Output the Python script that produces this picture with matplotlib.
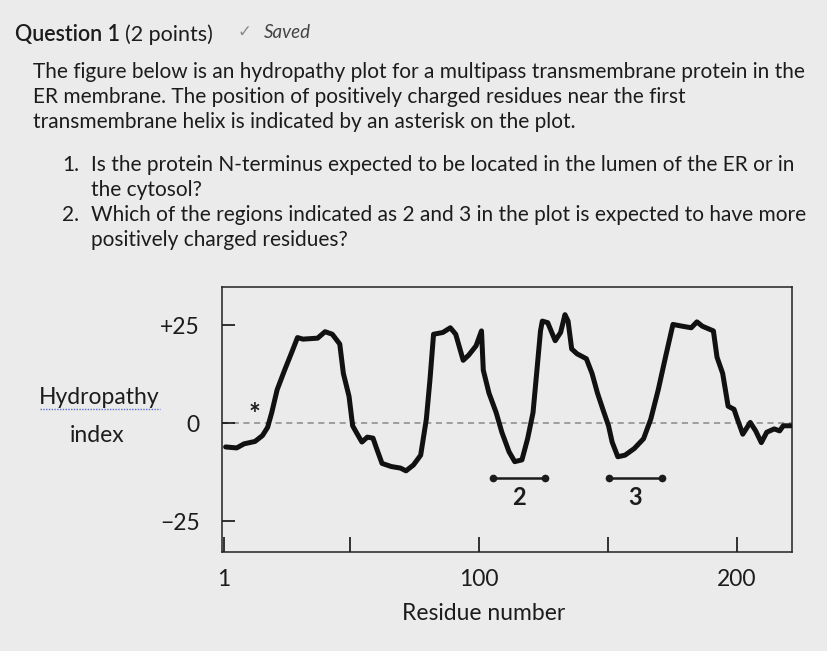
import matplotlib
matplotlib.use('Agg')
import matplotlib.pyplot as plt

plt.rcParams['font.family'] = ['Lato', 'DejaVu Sans']

# hydropathy trace
residue = [1.7, 6, 8.9, 13.1, 16, 18, 19.6, 21.7, 24.6, 27.4, 29.6, 31.7, 37.4, 40.3, 43.1,
           46, 47.4, 49.6, 51, 52.4, 54.6, 56.7, 58.9, 60.3, 62.4, 66, 69.6, 71.7, 74.6,
           77.4, 79.6, 81, 82.4, 86, 88.9, 91, 93.9, 96, 98.9, 101, 101.7, 103.9, 106.7,
           108.9, 111.7, 113.9, 116.7, 118.9, 121, 122.4, 123.9, 124.6, 126.7, 129.6,
           131.7, 133.4, 134.6, 136, 138.1, 141.7, 143.9, 146, 148.1, 150.3, 151.7, 153.9,
           156.7, 160.3, 163.9, 166.7, 169.6, 172.4, 175.3, 178.9, 182.4, 184.6, 186.7,
           191, 192.4, 194.6, 196.7, 199, 200.3, 202.4, 205.3, 207.4, 209.6, 211.7, 214.6,
           216.7, 218.1, 221]
hydropathy = [-6.0, -6.25, -5.2, -4.6, -3.1, -1.0, 2.75, 8.6, 13.6, 18.2, 21.9, 21.5, 21.75,
              23.4, 22.75, 20.25, 12.75, 6.9, -0.6, -2.25, -4.75, -3.5, -3.75, -6.4, -10.2,
              -11, -11.4, -12.1, -10.6, -8.1, 1.1, 11.1, 22.75, 23.2, 24.4, 22.75, 16.1,
              17.4, 19.8, 23.6, 13.6, 7.75, 2.75, -2.25, -7.25, -9.75, -9.3, -3.9, 2.75,
              12.75, 23.6, 26.1, 25.7, 21.1, 23.2, 27.75, 26.1, 19, 17.75, 16.5, 12.75, 7.75,
              3.6, -0.6, -4.75, -8.5, -8.1, -6.4, -3.9, 1.1, 8.6, 16.9, 25.25, 24.8, 24.4,
              25.9, 24.8, 23.6, 16.9, 12.75, 4.4, 3.6, 1.1, -2.75, 0.25, -1.9, -4.9, -2.25,
              -1.4, -1.9, -0.6, -0.6]

asterisk_pos = (12.9, 2.2)
region_names = ['2', '3']
region_start = [105.3, 150.3]
region_end = [125.7, 171.0]
region_y = -13.8

x_ticks = [1, 50, 100, 150, 200]
x_labels = ['1', '', '100', '', '200']
y_ticks = [-25, 0, 25]
y_labels = ['\u221225', '0', '+25']

bg = '#ebebeb'
ink = '#1c1c1c'
fs_txt = 15
fs_plot = 16.5

fig = plt.figure(figsize=(8.28, 6.51), dpi=100, facecolor=bg)

# question text
fig.text(15 / 828, 1 - 35 / 651, 'Question 1', fontsize=15.5, fontweight='semibold',
         color=ink, va='center')
fig.text(125 / 828, 1 - 35 / 651, '(2 points)', fontsize=15.5, color=ink, va='center')
fig.text(238 / 828, 1 - 32 / 651, '\u2713', fontsize=12, color='#8a8a8a', va='center',
         family=['DejaVu Sans'])
fig.text(264 / 828, 1 - 32 / 651, 'Saved', fontsize=13.5, style='italic', color='#444444',
         va='center')

para = ['The figure below is an hydropathy plot for a multipass transmembrane protein in the',
        'ER membrane. The position of positively charged residues near the first',
        'transmembrane helix is indicated by an asterisk on the plot.']
for i, line in enumerate(para):
    fig.text(33 / 828, 1 - (72 + 25 * i) / 651, line, fontsize=fs_txt, color=ink, va='center')

items = [('1.', ['Is the protein N-terminus expected to be located in the lumen of the ER or in',
                 'the cytosol?']),
         ('2.', ['Which of the regions indicated as 2 and 3 in the plot is expected to have more',
                 'positively charged residues?'])]
yy = 165
for num, lines in items:
    fig.text(62 / 828, 1 - yy / 651, num, fontsize=fs_txt, color=ink, va='center')
    for line in lines:
        fig.text(91 / 828, 1 - yy / 651, line, fontsize=fs_txt, color=ink, va='center')
        yy += 25

# plot
ax = fig.add_axes([222 / 828, 1 - 552 / 651, 570 / 828, 265 / 651])
ax.set_facecolor('none')
ax.set_xlim(0.3, 221.5)
ax.set_ylim(-32.8, 34.8)

ax.axhline(0, color='#888888', lw=1.1, ls=(0, (4, 3)), zorder=1)
ax.plot(residue, hydropathy, color='#111111', lw=3.6, solid_joinstyle='round',
        solid_capstyle='round', zorder=3)

ax.text(asterisk_pos[0], asterisk_pos[1], '*', fontsize=20, fontweight='bold',
        ha='center', va='center', color=ink)
for name, s, e in zip(region_names, region_start, region_end):
    ax.plot([s, e], [region_y, region_y], color=ink, lw=1.8, marker='o', ms=4.5)
    ax.text((s + e) / 2, region_y - 5.2, name, fontsize=17, fontweight='bold',
            ha='center', va='center', color=ink)

for sp in ax.spines.values():
    sp.set_linewidth(1.1)
    sp.set_color('#222222')

ax.set_xticks(x_ticks)
ax.set_xticklabels(x_labels, fontsize=fs_plot, color=ink)
ax.set_yticks(y_ticks)
ax.set_yticklabels(y_labels, fontsize=fs_plot, color=ink)
ax.tick_params(axis='x', direction='in', length=11, width=1.1, pad=12)
ax.tick_params(axis='y', direction='in', length=9, width=1.1, pad=16)

fig.text(484 / 828, 1 - 614 / 651, 'Residue number', fontsize=fs_plot, color=ink,
         ha='center', va='center')

fig.text(99 / 828, 1 - 397 / 651, 'Hydropathy', fontsize=fs_plot, color=ink,
         ha='center', va='center')
fig.text(97 / 828, 1 - 435 / 651, 'index', fontsize=fs_plot, color=ink,
         ha='center', va='center')
fig.add_artist(plt.Line2D([40 / 828, 160 / 828], [1 - 409 / 651, 1 - 409 / 651],
                          color='#5a6fd0', lw=1.0, ls=(0, (1, 1))))

fig.savefig('out.png', dpi=100, facecolor=bg)
